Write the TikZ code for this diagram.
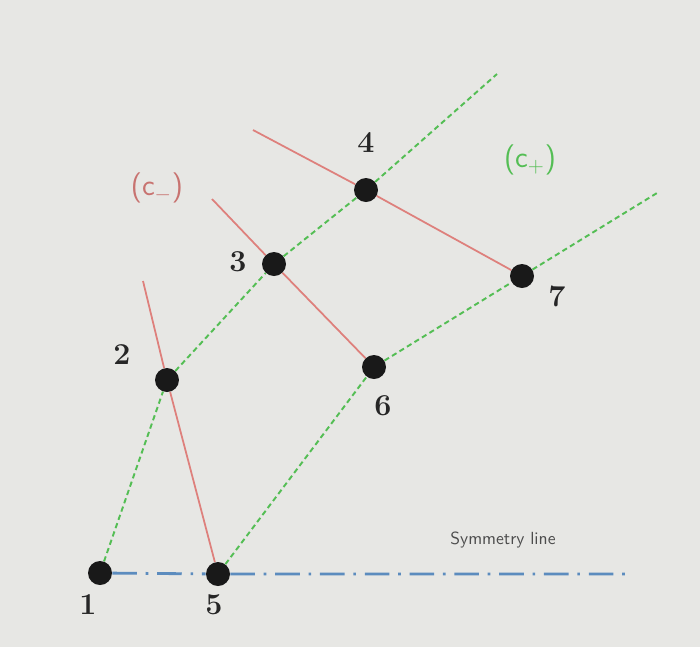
\documentclass[tikz,border=0pt]{standalone}
\usepackage{amsmath}
\usepackage{tikz}

\definecolor{paper}{RGB}{231,231,228}
\definecolor{cplusgreen}{RGB}{84,190,84}
\definecolor{cminusred}{RGB}{222,128,124}
\definecolor{symblue}{RGB}{92,140,190}

\tikzset{
	dot/.style={circle, fill=black!90, inner sep=0pt, minimum size=0.48cm},
	num/.style={font=\LARGE\bfseries, text=black!85},
	cplus/.style={cplusgreen, densely dashed, line width=1.1pt},
	cminus/.style={cminusred, line width=1pt},
	symline/.style={symblue, dash pattern=on 14pt off 5pt on 1.5pt off 5pt, line width=1.6pt}
}

\begin{document}
\begin{tikzpicture}[x=0.02cm, y=-0.02cm]
	%\draw[help lines] (0,0) grid[step=50] (700,647);
	\fill[paper] (0,0) rectangle (700,647);
	\useasboundingbox (0,0) rectangle (700,647);
	% grid points
	\node[dot] (p1) at (100,573) {};
	\node[dot] (p2) at (167,380) {};
	\node[dot] (p3) at (274,264) {};
	\node[dot] (p4) at (366,190) {};
	\node[dot] (p5) at (218,574) {};
	\node[dot] (p6) at (374,367) {};
	\node[dot] (p7) at (522,276) {};
	% free ends
	\coordinate (e4) at (497,74);
	\coordinate (e7) at (657,193);
	\coordinate (e2) at (143,281);
	\coordinate (e3) at (212,199);
	\coordinate (e4m) at (253,130);
	\coordinate (es) at (630,574);
	% characteristics
	\draw[cplus] (p1) -- (p2) -- (p3) -- (p4) -- (e4);
	\draw[cplus] (p5) -- (p6) -- (p7) -- (e7);
	\draw[cminus] (e2) -- (p2) -- (p5);
	\draw[cminus] (e3) -- (p3) -- (p6);
	\draw[cminus] (e4m) -- (p4) -- (p7);
	\draw[symline] (p1) -- (p5) -- (es);
	% labels
	\node[num] (l1) at (88,605) {1};
	\node[num] (l2) at (122,355) {2};
	\node[num] (l3) at (238,262) {3};
	\node[num] (l4) at (366,143) {4};
	\node[num] (l5) at (214,605) {5};
	\node[num] (l6) at (383,406) {6};
	\node[num] (l7) at (557,296) {7};
	\node[font=\sffamily, text=black!70] (sym) at (503,540) {Symmetry line};
	\node[font=\sffamily\LARGE, text=cminusred!90!black] (cm) at (157,188) {(c$_{-}$)};
	\node[font=\sffamily\LARGE, text=cplusgreen] (cp) at (530,160) {(c$_{+}$)};
\end{tikzpicture}
\end{document}
